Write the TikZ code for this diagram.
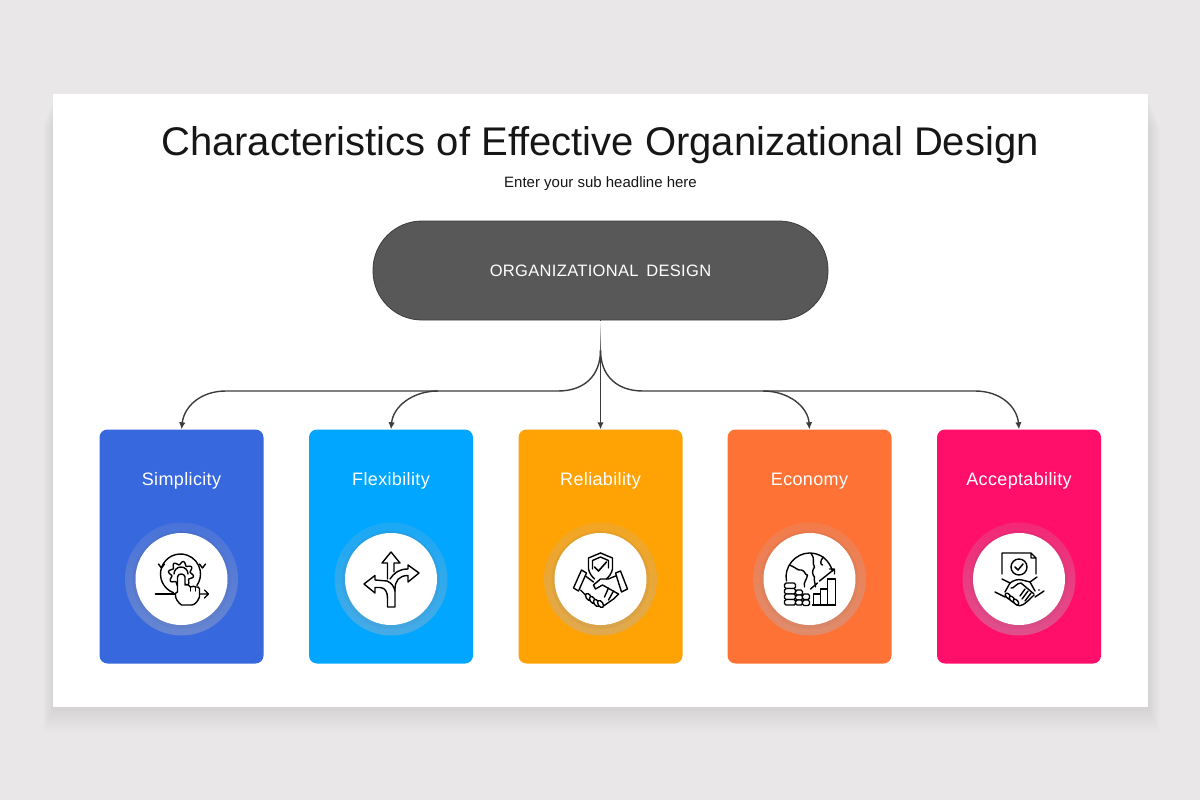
\documentclass[tikz,border=0pt]{standalone}
\usepackage{fontspec}
\setmainfont{Liberation Sans}
\usetikzlibrary{fadings,arrows.meta}
\definecolor{pagegray}{HTML}{E9E7E8}
\definecolor{pillgray}{HTML}{585858}
\definecolor{linegray}{HTML}{3C3C3C}
\definecolor{ringgray}{HTML}{B1B4C0}
\definecolor{inkblack}{HTML}{161616}
\definecolor{cardblue}{HTML}{3768DE}
\definecolor{cardsky}{HTML}{00A6FF}
\definecolor{cardamber}{HTML}{FFA305}
\definecolor{cardorange}{HTML}{FF7236}
\definecolor{cardpink}{HTML}{FF0F6A}
\tikzfading[name=ringfade,top color=transparent!85,bottom color=transparent!60]
\tikzset{
  card/.style={rectangle,minimum width=164pt,minimum height=234pt,inner sep=0pt,rounded corners=8pt},
  cardlabel/.style={anchor=base,text=white,font=\fontsize{18}{20}\selectfont\addfontfeatures{LetterSpace=2}},
  ring/.style={circle,minimum size=113pt,inner sep=0pt,fill=ringgray,path fading=ringfade},
  disc/.style={circle,minimum size=92pt,inner sep=0pt,fill=white},
  conn/.style={draw=linegray,line width=1.4pt},
  icon/.style={draw=black,line width=1.4pt,line join=round,line cap=round}
}
\newcommand{\geartouchicon}{
  \draw[icon] (-1,-5) ++(110:20) arc (110:395:20);
  \draw[icon,shift={(-0.5,-5)}] plot[domain=0:360,samples=97,smooth] (\x:{11+1.7*sin(8*\x)});
  \draw[icon] (-7.5,-5) arc (180:360:7);
  \draw[icon,line width=1.6pt] (-26,15) -- (-6,15);
  \draw[icon] (18,15) -- (27,15) (23,11) -- (27,15) -- (23,19);
  \draw[icon,fill=white] (-4,13) -- (-4,-2) .. controls (-4,-6) and (3.5,-6) .. (3.5,-2) -- (3.5,6)
    .. controls (6,5) and (8,6) .. (9,8) .. controls (11,7) and (13,7) .. (14,8)
    .. controls (16,7.5) and (18,8) .. (18,10) -- (18,18) .. controls (16,23) and (13,26) .. (10,26)
    -- (0,26) .. controls (-3,24) and (-7,19) .. (-6,15) .. controls (-6,14) and (-5,13) .. (-4,13) -- cycle;
  \draw[icon] (9,8) -- (9,12) (14,8) -- (14,12);
  \draw[icon] (-23,-15) -- (-20,-11) -- (-17,-15) (18,-15) -- (21,-11) -- (24,-15);
}
\newcommand{\forkicon}{
  \draw[icon] (-3.5,0) -- (-3.5,-16) -- (-9,-16) -- (0,-27) -- (9,-16) -- (3,-16) -- (3,-7);
  \draw[icon] (-1,0) .. controls (3,-6) and (8,-10) .. (17,-10) -- (17,-14) -- (28,-6) -- (17,3) -- (17,-3.5) .. controls (8,-3.5) and (4,2) .. (4,10) -- (4,28) -- (-3.5,28) -- (-3.5,19);
  \draw[icon] (-4,2) -- (-16,1) -- (-16,-3.5) -- (-27,5) -- (-16,14) -- (-16,8.5) -- (-11,8.5) .. controls (-6,8.5) and (-3.5,13) .. (-3.5,19);
  \draw[icon] (-4,2) .. controls (1,4) and (3,8) .. (4,12);
}
\newcommand{\trusticon}{
  \draw[icon] (0,-26) -- (12,-21) -- (12,-10) .. controls (11,-5) and (8,-2) .. (6,0);
  \draw[icon] (0,-26) -- (-12,-21) -- (-12,-10) .. controls (-11,-5) and (-8,-2) .. (-6,0);
  \draw[icon] (0,-22) -- (8,-18.5) -- (8,-11) (0,-22) -- (-8,-18.5) -- (-8,-10);
  \draw[icon,line width=1.6pt] (-6,-12) -- (-2,-8) -- (6,-17);
  \draw[icon,fill=white] (-27,9) -- (-19,-9) -- (-14,-6) -- (-22,12) -- cycle;
  \draw[icon,fill=white] (15,-6) -- (20,-8) -- (27,10) -- (21,13) -- cycle;
  \draw[icon] (-15,-3) -- (-7,3) (15,-3) -- (8,0) -- (0,0) -- (-7,6) -- (-5,10) -- (2,6) -- (18,15);
  \draw[icon] (-20,11) -- (-14,17);
  \foreach \cf/\cg in {-12/18,-8/21,-4/24,0/25}
    \draw[icon,fill=white,rotate around={35:(\cf,\cg)}] (\cf,\cg) ellipse (2.4 and 4);
  \draw[icon] (18,15) -- (13,20) -- (3,27) (13,12) -- (8,21) (8,9) -- (4,18);
}
\newcommand{\marketicon}{
  \draw[icon] (-23,2) .. controls (-26,-12) and (-14,-26) .. (0,-26) .. controls (12,-26) and (20,-18) .. (23,-8);
  \draw[icon] (-20,-14) .. controls (-14,-12) and (-12,-8) .. (-8,-9) .. controls (-4,-8) and (-5,-4) .. (-2,-4) .. controls (-3,2) and (-6,2) .. (-5,8);
  \draw[icon] (2,-25) .. controls (6,-20) and (2,-16) .. (5,-12) .. controls (2,-8) and (3,-4) .. (5,-2) .. controls (4,2) and (6,4) .. (6,8);
  \draw[icon] (14,-22) .. controls (10,-18) and (11,-14) .. (13,-14);
  \draw[icon] (1,10) -- (8,4) (10,2) -- (25,-10) (20,-10) -- (25,-10) -- (25,-5);
  \foreach \cy in {4,9.5,15,20.5}
    \draw[icon,fill=white,rounded corners=1.5pt] (-25,\cy) rectangle (-14,\cy+5.5);
  \foreach \cy in {11,16,21}
    \draw[icon,fill=white,rounded corners=1.5pt] (-14,\cy) rectangle (-7,\cy+5);
  \foreach \cy in {15,21}
    \draw[icon,fill=white,rounded corners=1.5pt] (-7,\cy) rectangle (0,\cy+5.5);
  \draw[icon] (4,26) -- (4,15) -- (11,15) -- (11,26);
  \draw[icon] (11,26) -- (11,10) -- (18,10) -- (18,26);
  \draw[icon] (18,26) -- (18,0) -- (26,0) -- (26,26) -- cycle;
  \draw[icon] (3,26) -- (26,26);
}
\newcommand{\dealicon}{
  \draw[icon] (-17,-5) -- (-17,-26) -- (12,-26) -- (17,-21) -- (17,-5) (12,-26) -- (12,-21) -- (17,-21);
  \draw[icon] (0,-12) circle (8);
  \draw[icon,line width=1.5pt] (-4,-12) -- (-1,-9) -- (4,-15);
  \draw[icon] (-24,13) -- (-14,18) (25,12) -- (16,18) (-17,0) -- (-9,4) (18,-2) -- (11,3);
  \draw[icon] (-9,4) -- (-14,13) (11,3) -- (16,12);
  \draw[icon] (-9,4) .. controls (-5,1) and (-1,0) .. (3,1) -- (11,3);
  \draw[icon] (-8,9) .. controls (-5,10) and (-3,4) .. (2,4) -- (15,15);
  \draw[icon] (-14,17) -- (-2,26) .. controls (2,28) and (5,26) .. (15,16);
  \foreach \cf/\cg in {-11/17,-7/20,-3/23}
    \draw[icon,fill=white,rotate around={40:(\cf,\cg)}] (\cf,\cg) ellipse (2 and 3.5);
  \draw[icon] (12,14) -- (6,22) (9,12) -- (3,20) (6,10) -- (1,17);
  \fill (20,11) circle (0.8);
}
\begin{document}
\begin{tikzpicture}[x=1pt,y=-1pt]
  \useasboundingbox (0,0) rectangle (1200,800);
  \fill[pagegray] (0,0) rectangle (1200,800);
  \foreach \sh in {1,...,20}
    \fill[black,opacity=0.005] (53-0.5*\sh,96+1.5*\sh) rectangle (1148+0.6*\sh,707+1.3*\sh);
  \node[fill=white,minimum width=1095pt,minimum height=613pt,inner sep=0pt] (slide) at (600.5,400.5) {};

  \node[anchor=base,text=inkblack,font=\fontsize{40}{42}\selectfont] (title) at (600,155) {Characteristics of Effective Organizational Design};
  \node[anchor=base,text=inkblack,font=\fontsize{15}{17}\selectfont] (subtitle) at (600.5,187) {Enter your sub headline here};

  \node[fill=pillgray,draw=linegray,line width=0.8pt,minimum width=455pt,minimum height=99pt,rounded corners=49pt,inner sep=0pt,
    text=white,font=\fontsize{16.5}{20}\selectfont\addfontfeatures{LetterSpace=2}] (design) at (600.5,270.5) {ORGANIZATIONAL\, DESIGN};

  \foreach \card/\cx/\col/\txt/\ico in {
    simplicity/181.5/cardblue/Simplicity/\geartouchicon,
    flexibility/391/cardsky/Flexibility/\forkicon,
    reliability/600.5/cardamber/Reliability/\trusticon,
    economy/809.5/cardorange/Economy/\marketicon,
    acceptability/1019/cardpink/Acceptability/\dealicon}{
    \node[card,fill=\col] (\card) at (\cx,546.5) {};
    \node[cardlabel] (\card label) at (\cx,485) {\txt};
    \fill[black,opacity=0.05] (\cx,580) circle (49);
    \node[ring] (\card ring) at (\cx,579) {};
    \node[disc] (\card disc) at (\cx,579) {};
    \begin{scope}[shift={(\cx,579)}]
      \ico
    \end{scope}
  }

  \coordinate (fork) at (600.5,350);
  \coordinate (busleft) at (558,391);
  \coordinate (busright) at (643,391);
  \coordinate (farleft) at (226,391);
  \coordinate (farright) at (975,391);
  \coordinate (nearleft) at (438,391);
  \coordinate (nearright) at (763,391);

  \draw[conn,-{Latex[length=7pt,width=6.5pt]}] (design.south) -- (reliability.north);
  \draw[conn,-{Latex[length=7pt,width=6.5pt]}] (fork) .. controls (600.5,375) and (585,391) .. (busleft) -- (farleft)
    .. controls (200,391) and (184,407) .. (simplicity.north);
  \draw[conn,-{Latex[length=7pt,width=6.5pt]}] (fork) .. controls (600.5,375) and (616,391) .. (busright) -- (farright)
    .. controls (1001,391) and (1017,407) .. (acceptability.north);
  \draw[conn,-{Latex[length=7pt,width=6.5pt]}] (nearleft) .. controls (412,391) and (393,407) .. (flexibility.north);
  \draw[conn,-{Latex[length=7pt,width=6.5pt]}] (nearright) .. controls (789,391) and (808,407) .. (economy.north);
  \fill[white,path fading=south] (597,321) rectangle (604,352);
\end{tikzpicture}
\end{document}
